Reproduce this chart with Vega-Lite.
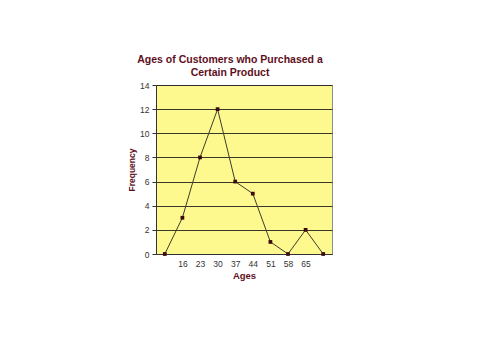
{
  "$schema": "https://vega.github.io/schema/vega-lite/v6.json",
  "autosize": "none",
  "width": 176,
  "height": 169,
  "padding": {"left": 156, "top": 85, "right": 148, "bottom": 106},
  "background": "#ffffff",
  "title": {
    "text": ["Ages of Customers who Purchased a", "Certain Product"],
    "color": "#5e0f1c",
    "font": "Liberation Sans",
    "fontSize": 10.5,
    "fontWeight": "bold",
    "anchor": "middle",
    "dx": -14,
    "offset": 3,
    "lineHeight": 13
  },
  "config": {
    "view": {"fill": "#fdf98f", "stroke": "#8c8c8c", "strokeWidth": 1},
    "axis": {"labelFont": "Liberation Sans", "titleFont": "Liberation Sans"}
  },
  "data": {
    "values": [
      {"age": "9", "frequency": 0},
      {"age": "16", "frequency": 3},
      {"age": "23", "frequency": 8},
      {"age": "30", "frequency": 12},
      {"age": "37", "frequency": 6},
      {"age": "44", "frequency": 5},
      {"age": "51", "frequency": 1},
      {"age": "58", "frequency": 0},
      {"age": "65", "frequency": 2},
      {"age": "72", "frequency": 0}
    ]
  },
  "encoding": {
    "x": {
      "field": "age",
      "type": "ordinal",
      "sort": null,
      "scale": {"type": "point", "padding": 0.5},
      "axis": {
        "title": "Ages",
        "titleColor": "#5e0f1c",
        "titleFontSize": 9.5,
        "titleFontWeight": "bold",
        "titlePadding": 3,
        "labelAngle": 0,
        "labelFontSize": 8.5,
        "labelColor": "#333333",
        "labelPadding": 5,
        "labelExpr": "datum.label == '9' || datum.label == '72' ? '' : datum.label",
        "ticks": false,
        "domainColor": "#333333",
        "grid": false
      }
    },
    "y": {
      "field": "frequency",
      "type": "quantitative",
      "scale": {"domain": [0, 14]},
      "axis": {
        "title": "Frequency",
        "titleColor": "#5e0f1c",
        "titleFontSize": 8.5,
        "titleFontWeight": "bold",
        "titlePadding": 3,
        "values": [0, 2, 4, 6, 8, 10, 12, 14],
        "labelFontSize": 8.5,
        "labelColor": "#333333",
        "labelPadding": 3,
        "tickSize": 4,
        "tickColor": "#333333",
        "domainColor": "#333333",
        "grid": true,
        "gridColor": "#222222",
        "gridOpacity": 0.9,
        "gridWidth": 1
      }
    }
  },
  "layer": [
    {"mark": {"type": "line", "color": "#3d3d2a", "strokeWidth": 1}},
    {"mark": {"type": "point", "shape": "square", "filled": true, "size": 14, "color": "#3a0a0a", "opacity": 1}}
  ]
}
